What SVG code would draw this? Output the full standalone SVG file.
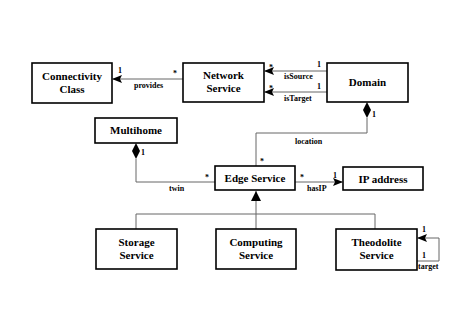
<svg xmlns="http://www.w3.org/2000/svg" width="474" height="334" viewBox="0 0 474 334">
<style>
.box{fill:#fff;stroke:#000;stroke-width:1.6}
.t{font-family:"Liberation Serif",serif;font-weight:bold;font-size:11px;text-anchor:middle;fill:#000}
.l{font-family:"Liberation Serif",serif;font-weight:bold;font-size:8px;fill:#000}
.c{fill:none;stroke:#666;stroke-width:1}
</style>
<defs>
<marker id="arr" markerWidth="10" markerHeight="8" refX="9" refY="4" orient="auto" markerUnits="userSpaceOnUse">
<path d="M0,0 L10,4 L0,8 L2,4 Z" fill="#000"/>
</marker>
<marker id="dia" markerWidth="16" markerHeight="8" refX="0" refY="4" orient="auto" markerUnits="userSpaceOnUse">
<path d="M0,4 L8,0 L16,4 L8,8 Z" fill="#000"/>
</marker>
<marker id="inh" markerWidth="10" markerHeight="10" refX="10" refY="5" orient="auto" markerUnits="userSpaceOnUse">
<path d="M0,0 L10,5 L0,10 Z" fill="#000"/>
</marker>
</defs>
<rect width="474" height="334" fill="#fff"/>
<g id="connectors">
<line class="c" x1="183" y1="79" x2="113" y2="79" marker-end="url(#arr)"/>
<line class="c" x1="327" y1="71" x2="265" y2="71" marker-end="url(#arr)"/>
<line class="c" x1="327" y1="92" x2="265" y2="92" marker-end="url(#arr)"/>
<polyline class="c" points="256,166 256,133 367,133 367,118" marker-end="url(#dia)"/>
<polyline class="c" points="215,182 136,182 136,159" marker-end="url(#dia)"/>
<line class="c" x1="295" y1="182" x2="342" y2="182" marker-end="url(#arr)"/>
<polyline class="c" points="136,229 136,214 375,214 375,229"/>
<line class="c" x1="256" y1="229" x2="256" y2="214"/>
<line class="c" x1="256" y1="214" x2="256" y2="191" marker-end="url(#inh)"/>
<polyline class="c" points="417,261 439,261 439,238 418,238" marker-end="url(#arr)"/>
<text class="l" x="118" y="73">1</text>
<text class="l" x="173" y="76">*</text>
<text class="l" x="134" y="88">provides</text>
<text class="l" x="269" y="70">*</text>
<text class="l" x="317" y="67">1</text>
<text class="l" x="284" y="79">isSource</text>
<text class="l" x="269" y="91">*</text>
<text class="l" x="317" y="89">1</text>
<text class="l" x="284" y="101">isTarget</text>
<text class="l" x="295" y="144">location</text>
<text class="l" x="260" y="164">*</text>
<text class="l" x="372" y="117">1</text>
<text class="l" x="141" y="155">1</text>
<text class="l" x="205" y="180">*</text>
<text class="l" x="169" y="191">twin</text>
<text class="l" x="300" y="180">*</text>
<text class="l" x="333" y="178">1</text>
<text class="l" x="307" y="191">hasIP</text>
<text class="l" x="422" y="232">1</text>
<text class="l" x="422" y="258">1</text>
<text class="l" x="418" y="269">target</text>
</g>
<g id="connectivity-class"><rect class="box" x="32" y="63" width="80" height="40"/><text class="t" x="72" y="80">Connectivity</text><text class="t" x="72" y="93">Class</text></g>
<g id="network-service"><rect class="box" x="183" y="63" width="81" height="39"/><text class="t" x="223.5" y="79">Network</text><text class="t" x="223.5" y="92">Service</text></g>
<g id="domain"><rect class="box" x="327" y="63" width="81" height="39"/><text class="t" x="367.5" y="86">Domain</text></g>
<g id="multihome"><rect class="box" x="95" y="118" width="82" height="25"/><text class="t" x="136" y="134">Multihome</text></g>
<g id="edge-service"><rect class="box" x="215" y="166" width="80" height="24"/><text class="t" x="255" y="182">Edge Service</text></g>
<g id="ip-address"><rect class="box" x="343" y="167" width="80" height="23"/><text class="t" x="383" y="183">IP address</text></g>
<g id="storage-service"><rect class="box" x="96" y="229" width="81" height="40"/><text class="t" x="136.5" y="246">Storage</text><text class="t" x="136.5" y="259">Service</text></g>
<g id="computing-service"><rect class="box" x="216" y="229" width="80" height="40"/><text class="t" x="256" y="246">Computing</text><text class="t" x="256" y="259">Service</text></g>
<g id="theodolite-service"><rect class="box" x="336" y="229" width="81" height="41"/><text class="t" x="376.5" y="246">Theodolite</text><text class="t" x="376.5" y="259">Service</text></g>
</svg>
